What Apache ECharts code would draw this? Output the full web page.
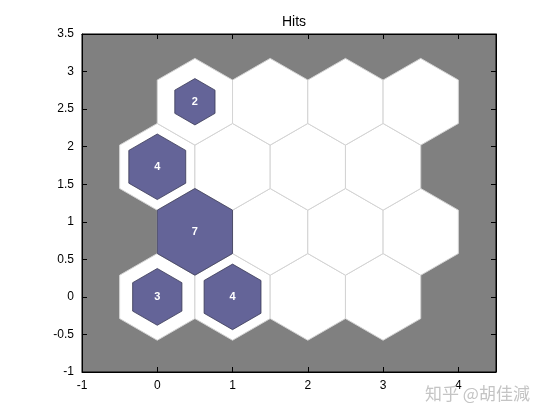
<!DOCTYPE html>
<html>
<head>
<meta charset="utf-8">
<script src="https://cdn.jsdelivr.net/npm/echarts@6/dist/echarts.min.js"></script>
<style>html,body{margin:0;padding:0;background:#fff}#c{width:560px;height:420px}</style>
</head>
<body>
<div id="c"></div>
<script>
// SOM 4x4 hexagonal topology: neuron grid row/col and hit counts
var neuronRow = [0,0,0,0, 1,1,1,1, 2,2,2,2, 3,3,3,3];
var neuronCol = [0,1,2,3, 0,1,2,3, 0,1,2,3, 0,1,2,3];
var hits      = [3,4,0,0, 7,0,0,0, 4,0,0,0, 2,0,0,0];
var xTicks = [-1,0,1,2,3,4];
var yTicks = [-1,-0.5,0,0.5,1,1.5,2,2.5,3,3.5];
var titleText = 'Hits';
var watermark = '知乎 @胡佳減';

var maxHits = Math.max.apply(null, hits);
var pts = neuronRow.map(function(r, i){
  return [neuronCol[i] + 0.5 * (r % 2), r * Math.sqrt(3) / 2, hits[i]];
});

function hexPoints(api, cx, cy, s){
  var a = 0.5 * s, b = s / (2 * Math.sqrt(3)), c = s / Math.sqrt(3);
  var v = [[cx + a, cy + b], [cx, cy + c], [cx - a, cy + b], [cx - a, cy - b], [cx, cy - c], [cx + a, cy - b]];
  return v.map(function(p){ return api.coord(p); });
}

var chart = echarts.init(document.getElementById('c'), null, {renderer: 'canvas'});
var axisCommon = {
  axisLine: {show: true, onZero: false, lineStyle: {color: '#000', width: 1}},
  axisTick: {show: true, inside: true, length: 5, lineStyle: {color: '#000'}},
  splitLine: {show: false}
};
var labelStyle = {color: '#000', fontSize: 12, fontFamily: 'Liberation Sans, Arial, sans-serif'};
chart.setOption({
  animation: false,
  backgroundColor: '#fff',
  title: {text: titleText, left: 289, top: 10, textAlign: 'center',
    textStyle: {fontSize: 14, fontWeight: 'normal', color: '#000', fontFamily: 'Liberation Sans, Arial, sans-serif'}},
  graphic: [{type: 'text', left: 425, top: 385, style: {text: watermark, fill: '#c4c4c4', fontSize: 17,
    fontFamily: 'Noto Sans CJK SC, sans-serif'}, z: 100}],
  grid: {left: 82, right: 64, top: 34, bottom: 48, show: true, backgroundColor: '#808080', borderColor: '#000', borderWidth: 1},
  xAxis: [
    Object.assign({type: 'value', min: -1, max: 4.5, interval: 1, position: 'bottom',
      axisLabel: Object.assign({showMaxLabel: false, margin: 8, formatter: function(v){ return xTicks.indexOf(v) >= 0 ? String(v) : ''; }}, labelStyle)}, axisCommon),
    Object.assign({type: 'value', min: -1, max: 4.5, interval: 1, position: 'top', axisLabel: {show: false}}, axisCommon)
  ],
  yAxis: [
    Object.assign({type: 'value', min: -1, max: 3.5, interval: 0.5, position: 'left',
      axisLabel: Object.assign({margin: 8, formatter: function(v){ return yTicks.indexOf(v) >= 0 ? String(v) : ''; }}, labelStyle)}, axisCommon),
    Object.assign({type: 'value', min: -1, max: 3.5, interval: 0.5, position: 'right', axisLabel: {show: false}}, axisCommon)
  ],
  series: [
    {
      type: 'custom', xAxisIndex: 0, yAxisIndex: 0, data: pts, clip: true,
      renderItem: function(params, api){
        var cx = api.value(0), cy = api.value(1);
        return {type: 'polygon', shape: {points: hexPoints(api, cx, cy, 1)},
          style: {fill: '#ffffff', stroke: '#d4d4d4', lineWidth: 1}};
      }
    },
    {
      type: 'custom', xAxisIndex: 0, yAxisIndex: 0, data: pts.filter(function(p){ return p[2] > 0; }), clip: true, z: 3,
      renderItem: function(params, api){
        var cx = api.value(0), cy = api.value(1), h = api.value(2);
        var s = Math.sqrt(h / maxHits);
        var c = api.coord([cx, cy]);
        return {type: 'group', children: [
          {type: 'polygon', shape: {points: hexPoints(api, cx, cy, s)},
            style: {fill: '#646498', stroke: '#3a3a55', lineWidth: 0.8}},
          {type: 'text', x: c[0], y: c[1], style: {text: String(h), fill: '#fff', fontSize: 11, fontWeight: 'bold',
            fontFamily: 'Liberation Sans, Arial, sans-serif', align: 'center', verticalAlign: 'middle'}}
        ]};
      }
    }
  ]
});
</script>
</body>
</html>
